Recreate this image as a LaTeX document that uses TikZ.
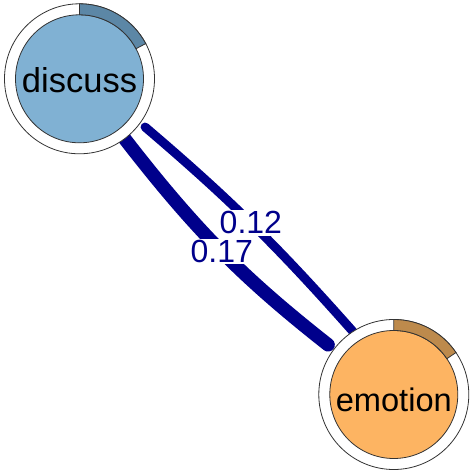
\documentclass[tikz,border=0pt]{standalone}
\usepackage{fontspec}
\setmainfont{Liberation Sans}
\usetikzlibrary{calc,backgrounds}
\definecolor{edgeblue}{HTML}{00008B}
\definecolor{lightblue}{HTML}{80B1D3}
\definecolor{pieblue}{HTML}{5C87A6}
\definecolor{lightorange}{HTML}{FDB462}
\definecolor{pieorange}{HTML}{BD8A4C}
\newcommand{\piering}[4]{\fill[#2,draw=black!80,line width=.8pt] (#1) circle (64pt);
\filldraw[#3,draw=black!80,line width=.8pt] ($(#1)+(90:64pt)$) arc (90:#4:64pt) -- ($(#1)+(#4:75pt)$) arc (#4:90:75pt) -- cycle;}

\begin{document}
\begin{tikzpicture}[x=1pt,y=1pt,
  qnode/.style={circle,draw=black!80,line width=.8pt,fill=white,minimum size=150pt,inner sep=0pt},
  wlabel/.style={fill=white,text=edgeblue,inner sep=1.5pt,font=\fontsize{32}{32}\selectfont},
  link/.style={draw=edgeblue,line cap=round}]
\useasboundingbox (0,0) rectangle (474,474);
\node[qnode] (discuss) at (79.5,395.2) {};
\node[qnode] (emotion) at (393.8,79.5) {};
\piering{discuss}{lightblue}{pieblue}{28}
\piering{emotion}{lightorange}{pieorange}{34}
\node[anchor=base,font=\fontsize{34.5}{34.5}\selectfont] (discusstext) at ($(discuss)+(0,-13.5)$) {discuss};
\node[anchor=base,font=\fontsize{32.6}{32.6}\selectfont] (emotiontext) at ($(emotion)+(0,-17.2)$) {emotion};
\begin{scope}[on background layer]
\draw[link,line width=13.5pt,shorten >=7pt] (discuss.-53) to[bend right=7] node[wlabel,midway] (wthick) {0.17} (emotion.143);
\draw[link,line width=9pt,shorten <=6pt] (discuss.-36) to[bend left=4] node[wlabel,midway] (wthin) {0.12} (emotion.123);
\end{scope}
\end{tikzpicture}
\end{document}
